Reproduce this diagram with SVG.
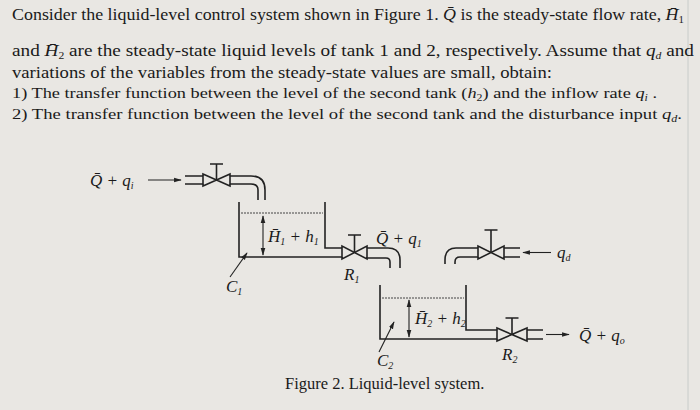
<svg xmlns="http://www.w3.org/2000/svg" width="700" height="410" viewBox="0 0 700 410">
<defs>
<style>
text{font-family:"Liberation Serif",serif;fill:#1a1a1a}
.t{font-size:16.5px}
.u{font-size:15.5px}
.i{font-style:italic;font-size:17px}
.s{font-size:10px}
.l{stroke:#222;stroke-width:1.6;fill:none}
.w{stroke:#444;stroke-width:1;stroke-dasharray:2 1;fill:none}
.v{stroke:#222;stroke-width:1.6;fill:#e8e6e2}
</style>
<marker id="a" viewBox="0 0 10 10" refX="9" refY="5" markerWidth="7" markerHeight="7" orient="auto-start-reverse"><path d="M0,2L10,5L0,8z" fill="#222"/></marker>
</defs>
<rect width="700" height="410" fill="#e9e7e3"/>
<line x1="688" y1="0" x2="688" y2="410" stroke="#c8ccca" stroke-width="1"/>
<g id="question">
<text class="t" x="12" y="20" textLength="672" lengthAdjust="spacingAndGlyphs">Consider the liquid-level control system shown in Figure 1. <tspan font-style="italic">Q̄</tspan> is the steady-state flow rate, <tspan font-style="italic">H̄</tspan><tspan class="s" dy="3">1</tspan></text>
<text class="t" x="12" y="56" textLength="682" lengthAdjust="spacingAndGlyphs">and <tspan font-style="italic">H̄</tspan><tspan class="s" dy="3">2</tspan><tspan dy="-3"> are the steady-state liquid levels of tank 1 and 2, respectively. Assume that </tspan><tspan font-style="italic">q</tspan><tspan class="s" dy="3" font-style="italic">d</tspan><tspan dy="-3"> and</tspan></text>
<text class="t" x="12" y="78" textLength="540" lengthAdjust="spacingAndGlyphs">variations of the variables from the steady-state values are small, obtain:</text>
<text class="u" x="12" y="98" textLength="645" lengthAdjust="spacingAndGlyphs">1) The transfer function between the level of the second tank (<tspan font-style="italic">h</tspan><tspan class="s" dy="3">2</tspan><tspan dy="-3">) and the inflow rate </tspan><tspan font-style="italic">q</tspan><tspan class="s" dy="3" font-style="italic">i</tspan><tspan dy="-3"> .</tspan></text>
<text class="u" x="12" y="119" textLength="670" lengthAdjust="spacingAndGlyphs">2) The transfer function between the level of the second tank and the disturbance input <tspan font-style="italic">q</tspan><tspan class="s" dy="3" font-style="italic">d</tspan><tspan dy="-3">.</tspan></text>
</g>
<g id="inlet">
<text class="i" x="90" y="186">Q̄ + q<tspan class="s" dy="3">i</tspan></text>
<path class="l" d="M185,176H203M185,184H203M230,176H251Q265,176 265,190V200M230,184H251Q258,184 258,190V200"/>
<path class="v" d="M203,174V186L230,174V186Z"/>
<path class="l" d="M216.5,180V164M210,164H223"/>
</g>
<g id="tank1">
<path class="l" d="M239,202V257H342M325,202V248H342"/>
<line class="w" x1="241" y1="213" x2="323" y2="213"/>
<text class="i" x="268" y="242">H̄<tspan class="s" dy="3">1</tspan><tspan dy="-3"> + h</tspan><tspan class="s" dy="3">1</tspan></text>
<text class="i" x="226" y="292">C<tspan class="s" dy="3">1</tspan></text>
</g>
<g id="valveR1">
<path class="v" d="M342,246V259L367,246V259Z"/>
<path class="l" d="M354.5,252.5V235M348,235H361M367,248H388Q400,248 400,260V268M367,258H386Q390,258 390,262V268"/>
<text class="i" x="344" y="280">R<tspan class="s" dy="3">1</tspan></text>
<text class="i" x="376" y="244">Q̄ + q<tspan class="s" dy="3">1</tspan></text>
</g>
<g id="disturbance">
<path class="l" d="M478,248H456Q445,248 445,260V264M478,257H460Q455,257 455,262V264M504,248H520M504,257H520"/>
<path class="v" d="M478,246V259L504,246V259Z"/>
<path class="l" d="M491,252.5V230M484.5,230H497.5"/>
<text class="i" x="557" y="258">q<tspan class="s" dy="3">d</tspan></text>
</g>
<g id="tank2">
<path class="l" d="M380,285V339H497M466,285V330H497"/>
<line class="w" x1="382" y1="298" x2="464" y2="298"/>
<text class="i" x="415" y="324">H̄<tspan class="s" dy="3">2</tspan><tspan dy="-3"> + h</tspan><tspan class="s" dy="3">2</tspan></text>
<text class="i" x="377" y="366">C<tspan class="s" dy="3">2</tspan></text>
</g>
<g id="valveR2">
<path class="v" d="M497,328V341L527,328V341Z"/>
<path class="l" d="M512,334.5V318M505.5,318H518.5M527,330H543M527,339H543"/>
<text class="i" x="502" y="360">R<tspan class="s" dy="3">2</tspan></text>
<text class="i" x="579" y="341">Q̄ + q<tspan class="s" dy="3">o</tspan></text>
</g>
<g id="connectors" stroke="#222" stroke-width="1.1" fill="none">
<line x1="148" y1="180" x2="181" y2="180" marker-end="url(#a)"/>
<line x1="263" y1="216" x2="263" y2="255" marker-start="url(#a)" marker-end="url(#a)"/>
<line x1="230" y1="277" x2="247" y2="253" marker-end="url(#a)"/>
<line x1="551" y1="252.5" x2="523" y2="252.5" marker-end="url(#a)"/>
<line x1="409" y1="300" x2="409" y2="337" marker-start="url(#a)" marker-end="url(#a)"/>
<line x1="379" y1="352" x2="394" y2="322" marker-end="url(#a)"/>
<line x1="546" y1="334.5" x2="569" y2="334.5" marker-end="url(#a)"/>
</g>
<text class="t" x="285" y="389">Figure 2. Liquid-level system.</text>
</svg>
